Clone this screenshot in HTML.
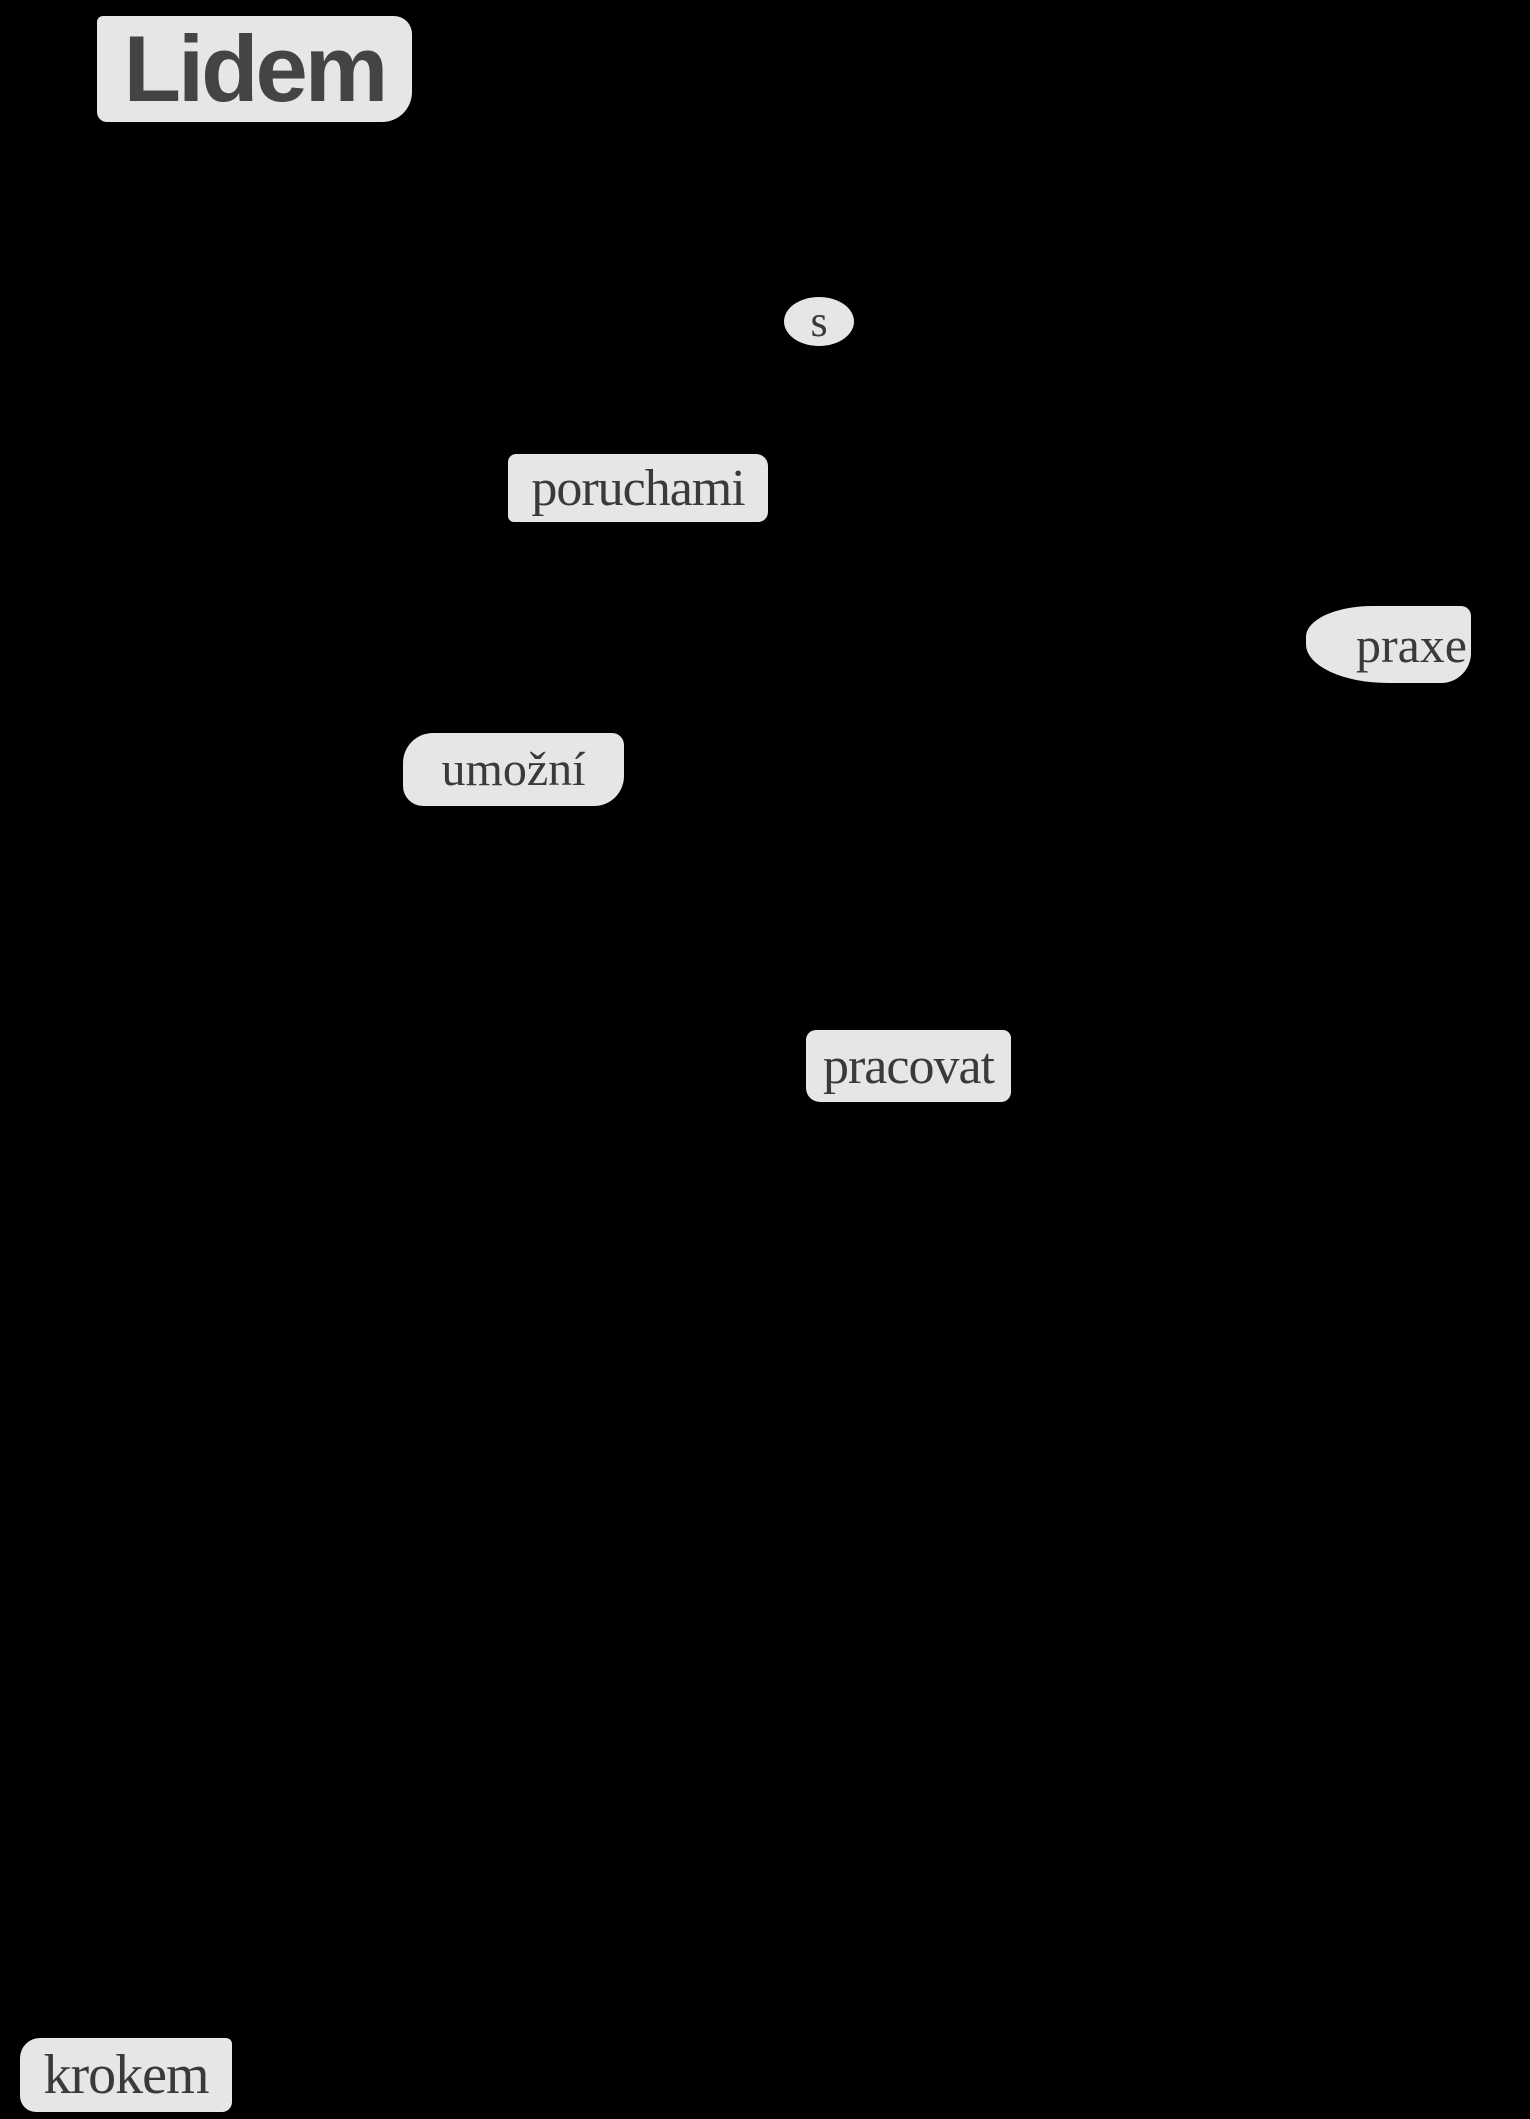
<!DOCTYPE html>
<html><head><meta charset="utf-8"><style>
html,body{margin:0;padding:0;background:#000;}
body{width:1530px;height:2119px;position:relative;overflow:hidden;}
.p{position:absolute;background:#e6e6e6;color:#3a3a3a;font-family:"Liberation Serif",serif;display:flex;align-items:center;justify-content:center;white-space:nowrap;}
</style></head><body>
<div class="p" style="left:97px;top:16px;width:315px;height:106px;font-family:'Liberation Sans',sans-serif;font-weight:bold;font-size:94px;color:#444;border-radius:6px 18px 30px 10px;letter-spacing:-3px;">Lidem</div>
<div class="p" style="left:784px;top:297px;width:70px;height:49px;font-size:44px;border-radius:50%;">s</div>
<div class="p" style="left:508px;top:454px;width:260px;height:68px;font-size:52px;border-radius:8px 12px 10px 6px;letter-spacing:-1px;">poruchami</div>
<div class="p" style="left:1306px;top:606px;width:165px;height:77px;font-size:50px;border-radius:40% 10px 30px 50%;justify-content:flex-end;padding-right:4px;box-sizing:border-box;">praxe</div>
<div class="p" style="left:403px;top:733px;width:221px;height:73px;font-size:48px;border-radius:30px 12px 30px 20px;">umožní</div>
<div class="p" style="left:806px;top:1030px;width:205px;height:72px;font-size:52px;border-radius:10px 8px 10px 14px;letter-spacing:-1px;">pracovat</div>
<div class="p" style="left:20px;top:2038px;width:212px;height:74px;font-size:56px;border-radius:20px 6px 10px 16px;letter-spacing:-1px;">krokem</div>
</body></html>
